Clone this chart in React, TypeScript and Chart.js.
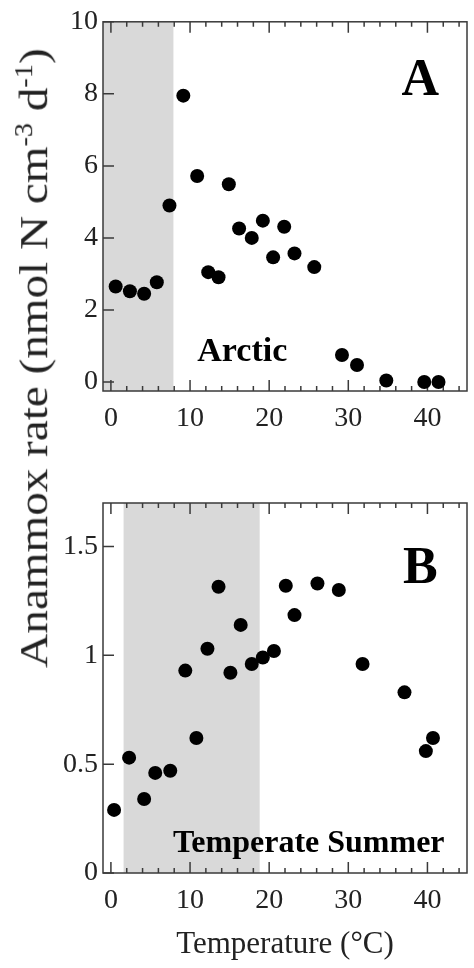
import React, { useEffect, useRef } from "react";
import { Chart, registerables } from "chart.js";

Chart.register(...registerables);

// Panel A: Arctic
const arcticTemp = [0.6, 2.4, 4.2, 5.8, 7.4, 9.15, 10.9, 12.3, 13.6, 14.9, 16.2, 17.8, 19.2, 20.5, 21.9, 23.2, 25.7, 29.2, 31.1, 34.8, 39.6, 41.4];
const arcticRate = [2.65, 2.52, 2.45, 2.77, 4.9, 7.95, 5.72, 3.05, 2.91, 5.49, 4.26, 4.0, 4.48, 3.46, 4.31, 3.57, 3.19, 0.75, 0.47, 0.04, 0.0, 0.0];

// Panel B: Temperate Summer
const summerTemp = [0.4, 2.3, 4.2, 5.6, 7.5, 9.4, 10.8, 12.2, 13.6, 15.1, 16.4, 17.8, 19.2, 20.6, 22.1, 23.2, 26.1, 28.8, 31.8, 37.1, 39.8, 40.7];
const summerRate = [0.29, 0.53, 0.34, 0.46, 0.47, 0.93, 0.62, 1.03, 1.315, 0.92, 1.14, 0.96, 0.99, 1.02, 1.32, 1.185, 1.33, 1.3, 0.96, 0.83, 0.56, 0.62];

const xTickLabels = [0, 10, 20, 30, 40];
const xMinorTicks = [0, 2, 4, 6, 8, 10, 12, 14, 16, 18, 20, 22, 24, 26, 28, 30, 32, 34, 36, 38, 40, 42, 44];
const arcticYTicks = [0, 2, 4, 6, 8, 10];
const summerYTicks = [0, 0.5, 1, 1.5];

// temperature ranges with grey background
const arcticShade = [-1, 7.9];
const summerShade = [1.6, 18.8];

const SERIF = '"Liberation Serif", "Times New Roman", serif';

// shading, boxed frame with inward ticks, and in-plot labels
const panelPlugin = {
  id: "panel",
  beforeDatasetsDraw(chart: any, _args: any, opts: any) {
    const { ctx, chartArea: a } = chart;
    const x = chart.scales.x;
    const y = chart.scales.y;
    ctx.save();

    const s0 = Math.max(a.left, x.getPixelForValue(opts.shade[0]));
    const s1 = Math.min(a.right, x.getPixelForValue(opts.shade[1]));
    ctx.fillStyle = "#d9d9d9";
    ctx.fillRect(s0, a.top, s1 - s0, a.bottom - a.top);

    ctx.strokeStyle = "#3a3a3a";
    ctx.lineWidth = 1.5;
    ctx.strokeRect(a.left, a.top, a.right - a.left, a.bottom - a.top);

    ctx.beginPath();
    xMinorTicks.forEach((v) => {
      const px = x.getPixelForValue(v);
      if (px <= a.left || px >= a.right) return;
      const len = xTickLabels.includes(v) ? 11 : 5;
      ctx.moveTo(px, a.bottom);
      ctx.lineTo(px, a.bottom - len);
      ctx.moveTo(px, a.top);
      ctx.lineTo(px, a.top + len);
    });
    opts.yTicks.forEach((v: number) => {
      const py = y.getPixelForValue(v);
      ctx.moveTo(a.left, py);
      ctx.lineTo(a.left + 11, py);
    });
    ctx.stroke();

    ctx.fillStyle = "#000";
    ctx.textAlign = "center";
    ctx.textBaseline = "alphabetic";
    opts.labels.forEach((t: any) => {
      ctx.font = `bold ${t.size}px ${SERIF}`;
      ctx.fillText(t.text, x.getPixelForValue(t.x), y.getPixelForValue(t.y));
    });
    ctx.restore();
  },
};

interface PanelProps {
  temps: number[];
  rates: number[];
  yMin: number;
  yMax: number;
  yTicks: number[];
  shade: number[];
  labels: any[];
  height: number;
  padTop: number;
  xAxisHeight: number;
  xTitle?: string;
}

const Panel: React.FC<PanelProps> = (p) => {
  const canvasRef = useRef<HTMLCanvasElement>(null!);

  useEffect(() => {
    const canvas = canvasRef.current;
    Chart.getChart(canvas)?.destroy();

    const chart = new Chart(canvas, {
      type: "scatter",
      data: {
        datasets: [
          {
            data: p.temps.map((t, i) => ({ x: t, y: p.rates[i] })),
            backgroundColor: "#000",
            borderWidth: 0,
            pointRadius: 7,
          },
        ],
      },
      options: {
        responsive: false,
        animation: false,
        layout: { padding: { top: p.padTop, right: 7, left: 0, bottom: 0 } },
        plugins: {
          legend: { display: false },
          tooltip: { enabled: false },
          panel: { shade: p.shade, yTicks: p.yTicks, labels: p.labels },
        } as any,
        scales: {
          x: {
            type: "linear",
            min: -1,
            max: 45,
            grid: { display: false, drawTicks: false },
            border: { display: false },
            afterBuildTicks: (scale: any) => {
              scale.ticks = xTickLabels.map((v) => ({ value: v }));
            },
            afterFit: (scale: any) => {
              scale.height = p.xAxisHeight;
            },
            ticks: {
              padding: 11,
              maxRotation: 0,
              color: "#222",
              font: { family: SERIF, size: 28 },
            },
            title: {
              display: !!p.xTitle,
              text: p.xTitle || "",
              color: "#222",
              font: { family: SERIF, size: 31 },
              padding: { top: 0, bottom: 5 },
            },
          },
          y: {
            min: p.yMin,
            max: p.yMax,
            grid: { display: false, drawTicks: false },
            border: { display: false },
            afterBuildTicks: (scale: any) => {
              scale.ticks = p.yTicks.map((v) => ({ value: v }));
            },
            afterFit: (scale: any) => {
              scale.width = 103;
            },
            ticks: {
              padding: 5,
              color: "#222",
              font: { family: SERIF, size: 28 },
              callback: (v: any) => String(v),
            },
          },
        },
      },
      plugins: [panelPlugin],
    });

    return () => {
      chart.destroy();
    };
  }, [p]);

  return <canvas ref={canvasRef} width={474} height={p.height} style={{ display: "block" }} />;
};

const arcticLabels = [
  { text: "A", x: 39.1, y: 7.98, size: 52 },
  { text: "Arctic", x: 16.6, y: 0.58, size: 34 },
];
const summerLabels = [
  { text: "B", x: 39.1, y: 1.333, size: 52 },
  { text: "Temperate Summer", x: 25.0, y: 0.097, size: 32 },
];

export default function App() {
  return (
    <div style={{ position: "absolute", left: 0, top: 0, width: 474, height: 968, background: "#fff" }}>
      <div style={{ position: "absolute", left: 0, top: 0 }}>
        <Panel
          temps={arcticTemp}
          rates={arcticRate}
          yMin={-0.25}
          yMax={10}
          yTicks={arcticYTicks}
          shade={arcticShade}
          labels={arcticLabels}
          height={440}
          padTop={20}
          xAxisHeight={49}
        />
      </div>
      <div style={{ position: "absolute", left: 0, top: 480 }}>
        <Panel
          temps={summerTemp}
          rates={summerRate}
          yMin={0}
          yMax={1.7}
          yTicks={summerYTicks}
          shade={summerShade}
          labels={summerLabels}
          height={488}
          padTop={23}
          xAxisHeight={95}
          xTitle="Temperature (°C)"
        />
      </div>
      <div
        style={{
          position: "absolute",
          left: 33,
          top: 358,
          transform: "translate(-50%, -50%) rotate(-90deg) scaleX(1.15)",
          whiteSpace: "nowrap",
          fontFamily: SERIF,
          fontSize: 41,
          color: "#222",
          lineHeight: 1,
        }}
      >
        Anammox rate (nmol N cm<sup style={{ fontSize: "0.6em" }}>-3</sup> d<sup style={{ fontSize: "0.6em" }}>-1</sup>)
      </div>
    </div>
  );
}
